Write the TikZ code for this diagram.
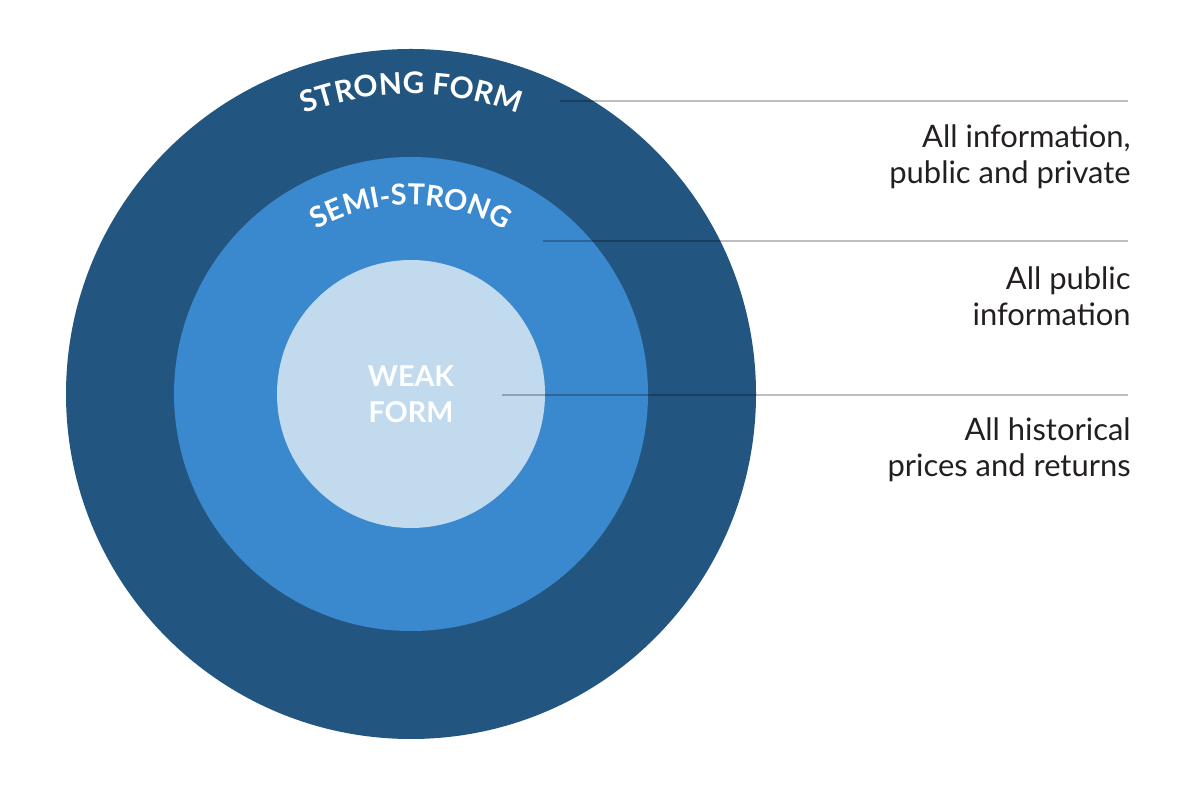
\documentclass[tikz,border=0pt]{standalone}
\usepackage{fontspec}
\setmainfont{Lato}
\usetikzlibrary{decorations.text}
\definecolor{strongblue}{RGB}{34,85,127}
\definecolor{semiblue}{RGB}{58,136,205}
\definecolor{weakblue}{RGB}{194,218,238}
\definecolor{labelgray}{RGB}{35,31,32}
\tikzset{
  leader/.style={black, opacity=.25, line width=.9pt},
  infotext/.style={anchor=east, align=right, inner sep=0pt, text=labelgray,
    font=\fontsize{17.6}{20.5}\selectfont},
  formtext/.style={align=center, inner sep=0pt, text=white,
    font=\fontsize{16.3}{20.5}\selectfont\bfseries}
}
\begin{document}
\begin{tikzpicture}
    \useasboundingbox (0,0) rectangle (24,15.88);
    \coordinate (c) at (8.22,8);

    % the three forms
    \fill[strongblue] (c) circle(6.9);
    \fill[semiblue] (c) circle(4.74);
    \fill[weakblue] (c) circle(2.68);

    % curved names
    \path[shift={(c)}, decorate, decoration={text along path, text align=center,
      text={|\fontsize{17}{17}\selectfont\bfseries\color{white}|STRONG FORM}}]
      (158:6.0) arc(158:22:6.0);
    \path[shift={(c)}, decorate, decoration={text along path, text align=center,
      text={|\fontsize{16.4}{16.4}\selectfont\bfseries\color{white}|SEMI-STRONG}}]
      (145:3.78) arc(145:35:3.78);
    \node[formtext] (weak) at (c) {WEAK\\FORM};

    % leader lines
    \coordinate (s1) at (11.2,13.86);   \coordinate (s2) at (22.56,13.86);
    \coordinate (m1) at (10.86,11.06);  \coordinate (m2) at (22.56,11.06);
    \coordinate (w1) at (10.04,7.98);   \coordinate (w2) at (22.56,7.98);
    \draw[leader] (s1) -- (s2);
    \draw[leader] (m1) -- (m2);
    \draw[leader] (w1) -- (w2);

    % descriptions
    \node[infotext] (allinfo) at (22.62,12.75) {All information,\\public and private};
    \node[infotext] (allpublic) at (22.62,9.96) {All public\\information};
    \node[infotext] (allhist) at (22.62,6.88) {All historical\\prices and returns};
\end{tikzpicture}
\end{document}
